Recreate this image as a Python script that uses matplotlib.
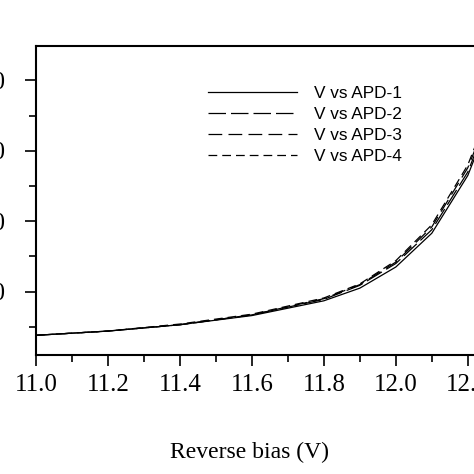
import matplotlib
matplotlib.use("Agg")
import matplotlib.pyplot as plt
import numpy as np

bias = [11.0, 11.2, 11.4, 11.6, 11.8, 11.9, 12.0, 12.1, 12.2, 12.25, 12.3]
apd1 = [3.8, 4.4, 5.3, 6.6, 8.7, 10.5, 13.5, 18.3, 26.5, 33.0, 41.5]
apd2 = [3.8, 4.4, 5.3, 6.7, 8.9, 10.9, 14.0, 18.8, 27.0, 33.5, 40.5]
apd3 = [3.8, 4.4, 5.3, 6.7, 9.0, 11.0, 14.2, 19.2, 27.6, 34.0, 39.5]
apd4 = [3.8, 4.4, 5.4, 6.8, 9.1, 11.1, 14.4, 19.5, 28.0, 34.5, 38.8]
labels = ["V vs APD-1", "V vs APD-2", "V vs APD-3", "V vs APD-4"]
styles = ["-", (0, (14, 4)), (0, (11, 5)), (0, (7, 4))]

fig = plt.figure(figsize=(4.74, 4.74), dpi=100)
ax = fig.add_axes([36/474, 1-355/474, 1.0, (355-46)/474])
for y, lab, ls in zip([apd1, apd2, apd3, apd4], labels, styles):
    ax.plot(bias, y, color="black", lw=0.9, linestyle=ls, label=lab)
ax.set_xlim(11.0, 11.0 + (474-36)/(435-36)*1.2)
ax.set_ylim(1.0, 44.9)
ax.set_xticks([11.0, 11.2, 11.4, 11.6, 11.8, 12.0, 12.2])
ax.set_xticks(np.arange(11.1, 12.4, 0.2), minor=True)
ax.set_yticks([10, 20, 30, 40])
ax.set_yticks([5, 15, 25, 35], minor=True)
ax.set_xticklabels(["11.0", "11.2", "11.4", "11.6", "11.8", "12.0", "12.2"],
                   fontfamily="Liberation Serif", fontsize=18)
ax.set_yticklabels(["10", "20", "30", "40"], fontfamily="Liberation Serif", fontsize=18)
ax.tick_params(axis="both", which="major", direction="out", length=8, width=1.2)
ax.tick_params(axis="both", which="minor", direction="out", length=5, width=1.2)
ax.tick_params(axis="x", which="major", pad=6)
ax.tick_params(axis="y", which="major", pad=14)
for s in ax.spines.values():
    s.set_linewidth(1.5)
fig.text(250/474, 1-452/474, "Reverse bias (V)", ha="center", va="center",
         fontfamily="Liberation Serif", fontsize=17)
fig.legend(loc="upper left", bbox_to_anchor=(192/474, 1-70/474), frameon=False,
           prop={"family": "Liberation Sans", "size": 12.4}, handlelength=5.2,
           labelspacing=0.35, handletextpad=1.0)
fig.savefig("out.png", dpi=100)
